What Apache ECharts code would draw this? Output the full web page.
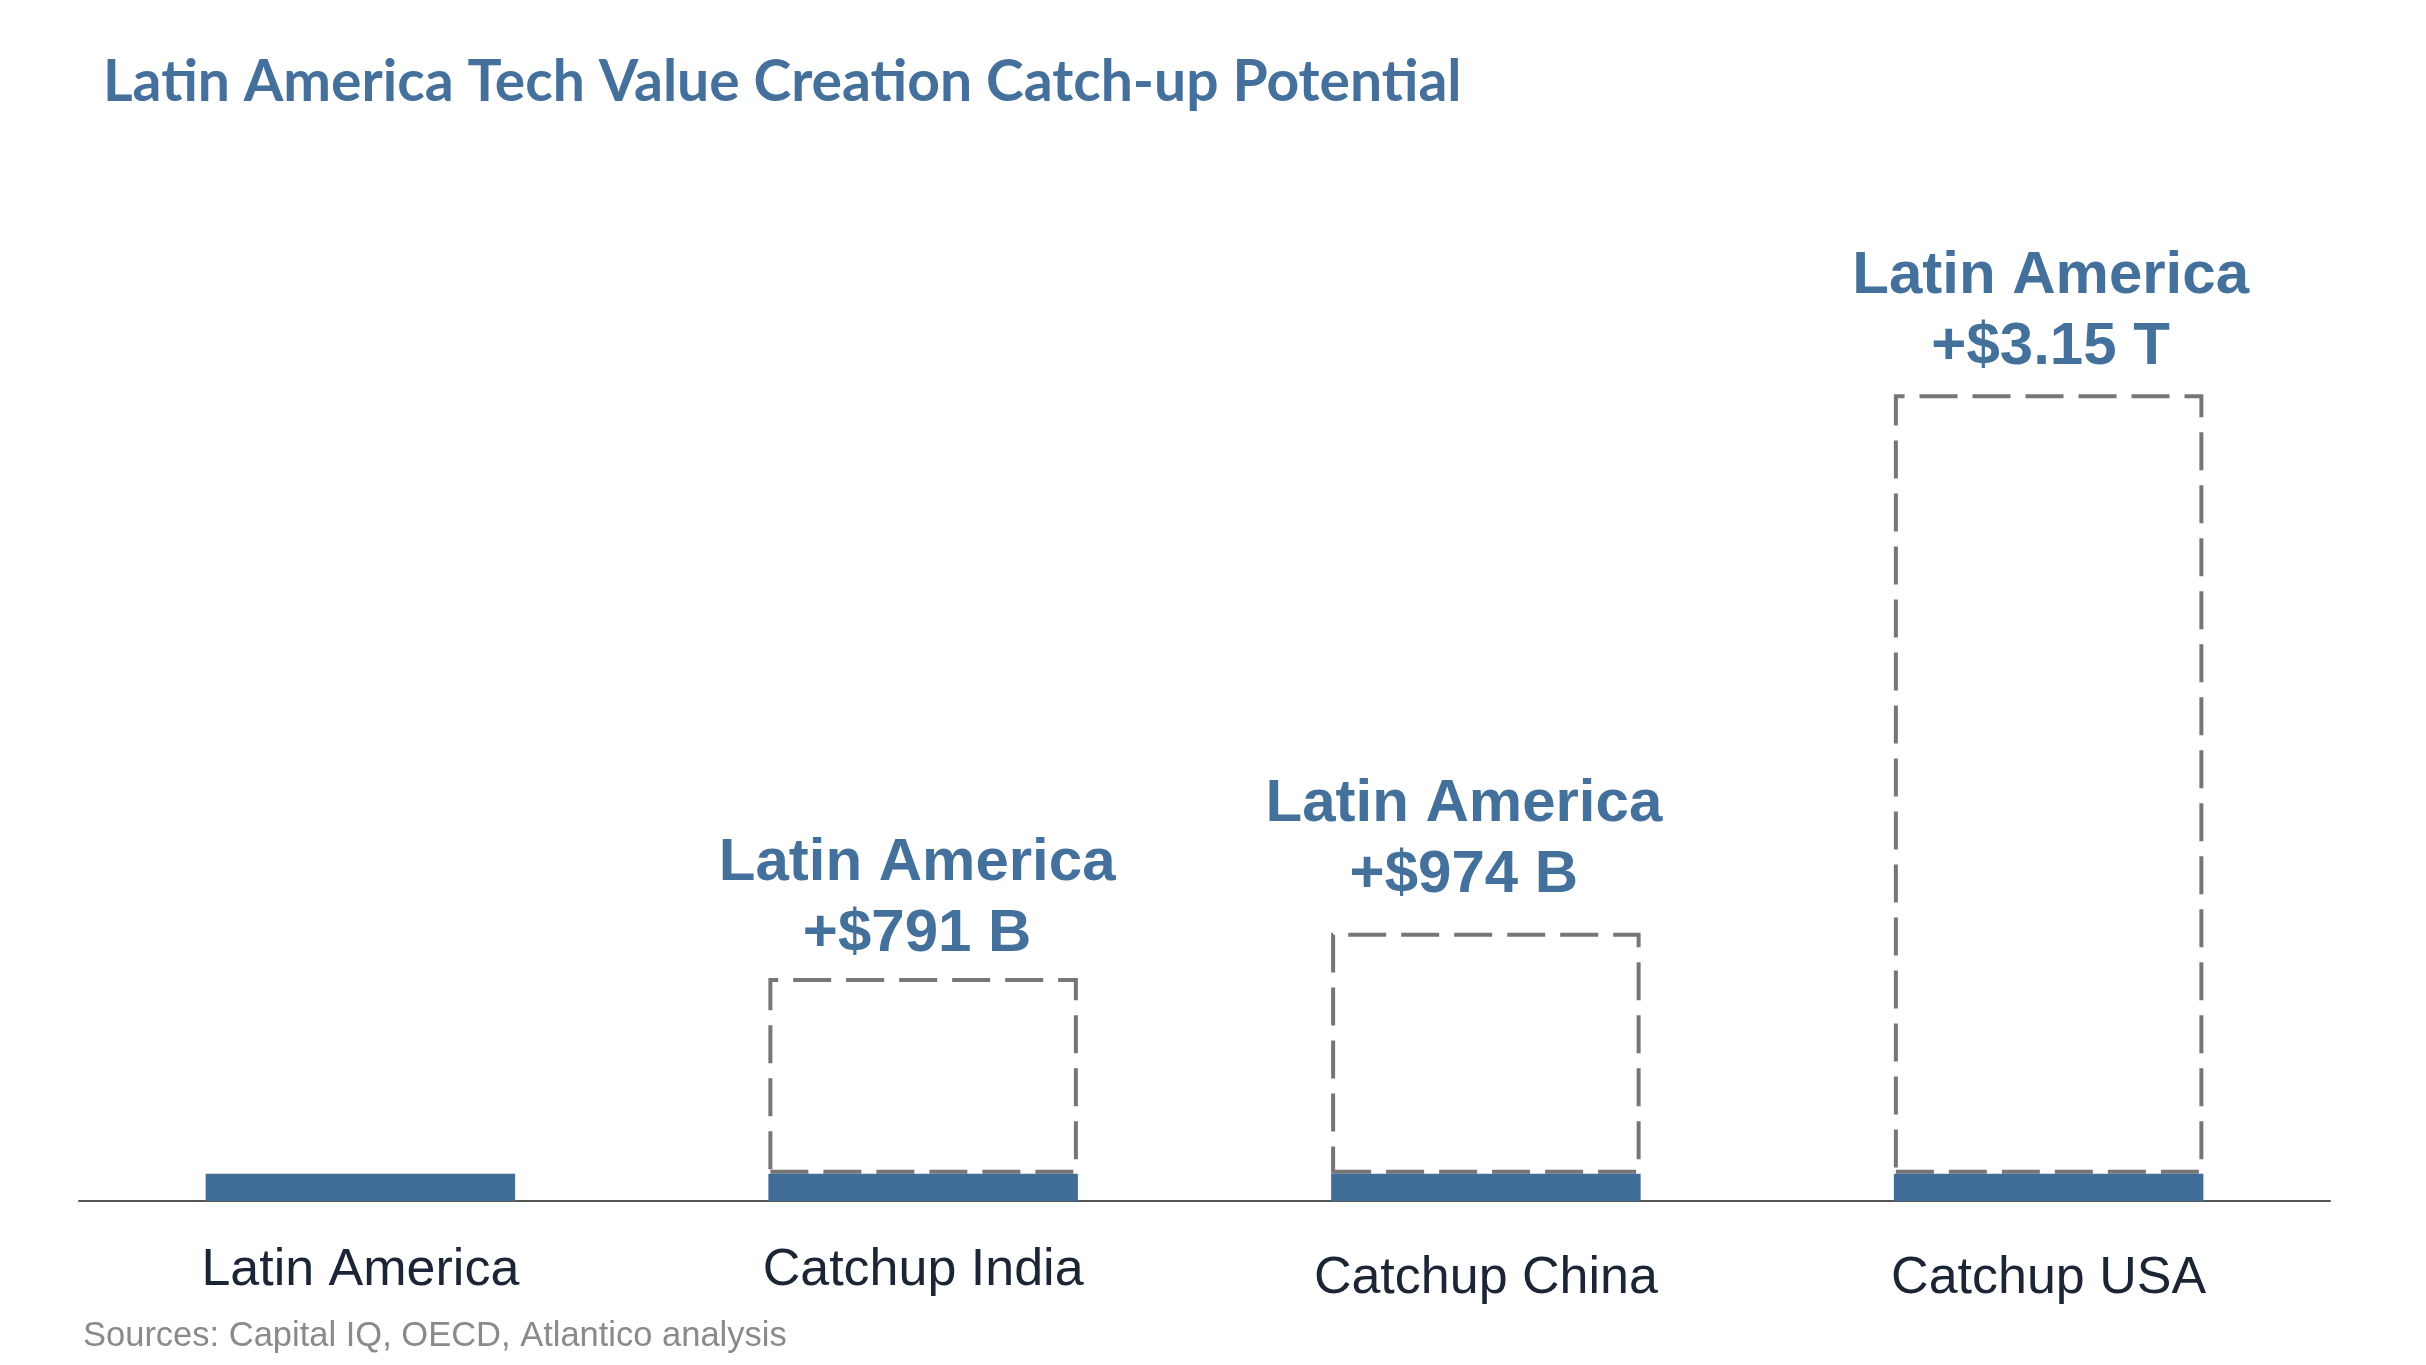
<!DOCTYPE html>
<html>
<head>
<meta charset="utf-8">
<script src="https://cdn.jsdelivr.net/npm/echarts@6/dist/echarts.min.js"></script>
<style>
html,body{margin:0;padding:0;background:#fff;}
#chart{width:2426px;height:1365px;}
</style>
</head>
<body>
<div id="chart"></div>
<script>
// Data (US$ billions)
const categories = ['Latin America', 'Catchup India', 'Catchup China', 'Catchup USA'];
const baseValues = [110, 110, 110, 110];          // current Latin America tech value (solid bar)
const catchupValues = [null, 791, 974, 3150];     // additional value to catch up (dashed box)
const labelPrefix = 'Latin America';
const titleText = 'Latin America Tech Value Creation Catch-up Potential';
const sourceText = 'Sources: Capital IQ, OECD, Atlantico analysis';

function fmt(v) {
  if (v >= 1000) return '+$' + (v / 1000).toFixed(2) + ' T';
  return '+$' + v + ' B';
}

// small layout nudges for labels (as in the reference slide)
const labelOffsets = [[0, 0], [-6, 0], [-22, -14], [2, -3]];
const catchupData = catchupValues.map((v, i) => ({
  value: v,
  label: { offset: labelOffsets[i] }
}));

const chart = echarts.init(document.getElementById('chart'));
chart.setOption({
  backgroundColor: '#ffffff',
  animation: false,
  title: [{
    text: titleText,
    left: 98,
    top: 49,
    textStyle: { fontFamily: 'Lato', fontWeight: 'bold', fontSize: 57, color: '#44709b' }
  }, {
    text: sourceText,
    left: 78,
    top: 1314,
    textStyle: { fontFamily: 'Liberation Sans', fontWeight: 'normal', fontSize: 34.5, color: '#8a8a8a' }
  }],
  grid: { left: 79, right: 96, top: 211, bottom: 164, containLabel: false },
  xAxis: {
    type: 'category',
    data: categories,
    axisLine: { show: true, lineStyle: { color: '#555555', width: 2 } },
    axisTick: { show: false },
    axisLabel: {
      margin: 44,
      formatter: (val, idx) => (idx >= 2 ? '{b|' + val + '}' : '{a|' + val + '}'),
      rich: {
        a: { fontFamily: 'Liberation Sans', fontSize: 52, color: '#1c2536' },
        b: { fontFamily: 'Liberation Sans', fontSize: 52, color: '#1c2536', padding: [8, 0, 0, 0] }
      }
    }
  },
  yAxis: {
    type: 'value',
    min: 0, max: 4000,
    show: false,
    splitLine: { show: false }
  },
  series: [{
    type: 'bar',
    stack: 'total',
    data: baseValues,
    barWidth: '55%',
    z: 3,
    itemStyle: { color: '#416e99' }
  }, {
    type: 'bar',
    stack: 'total',
    data: catchupData,
    barWidth: '55%',
    z: 2,
    itemStyle: {
      color: 'rgba(0,0,0,0)',
      borderColor: '#767676',
      borderWidth: 4,
      borderType: [38, 15]
    },
    label: {
      show: true,
      position: 'top',
      distance: 8,
      formatter: p => labelPrefix + '\n' + fmt(p.value),
      fontFamily: 'Liberation Sans',
      fontWeight: 'bold',
      fontSize: 60,
      lineHeight: 71,
      color: '#44709c',
      align: 'center'
    }
  }]
});
</script>
</body>
</html>
